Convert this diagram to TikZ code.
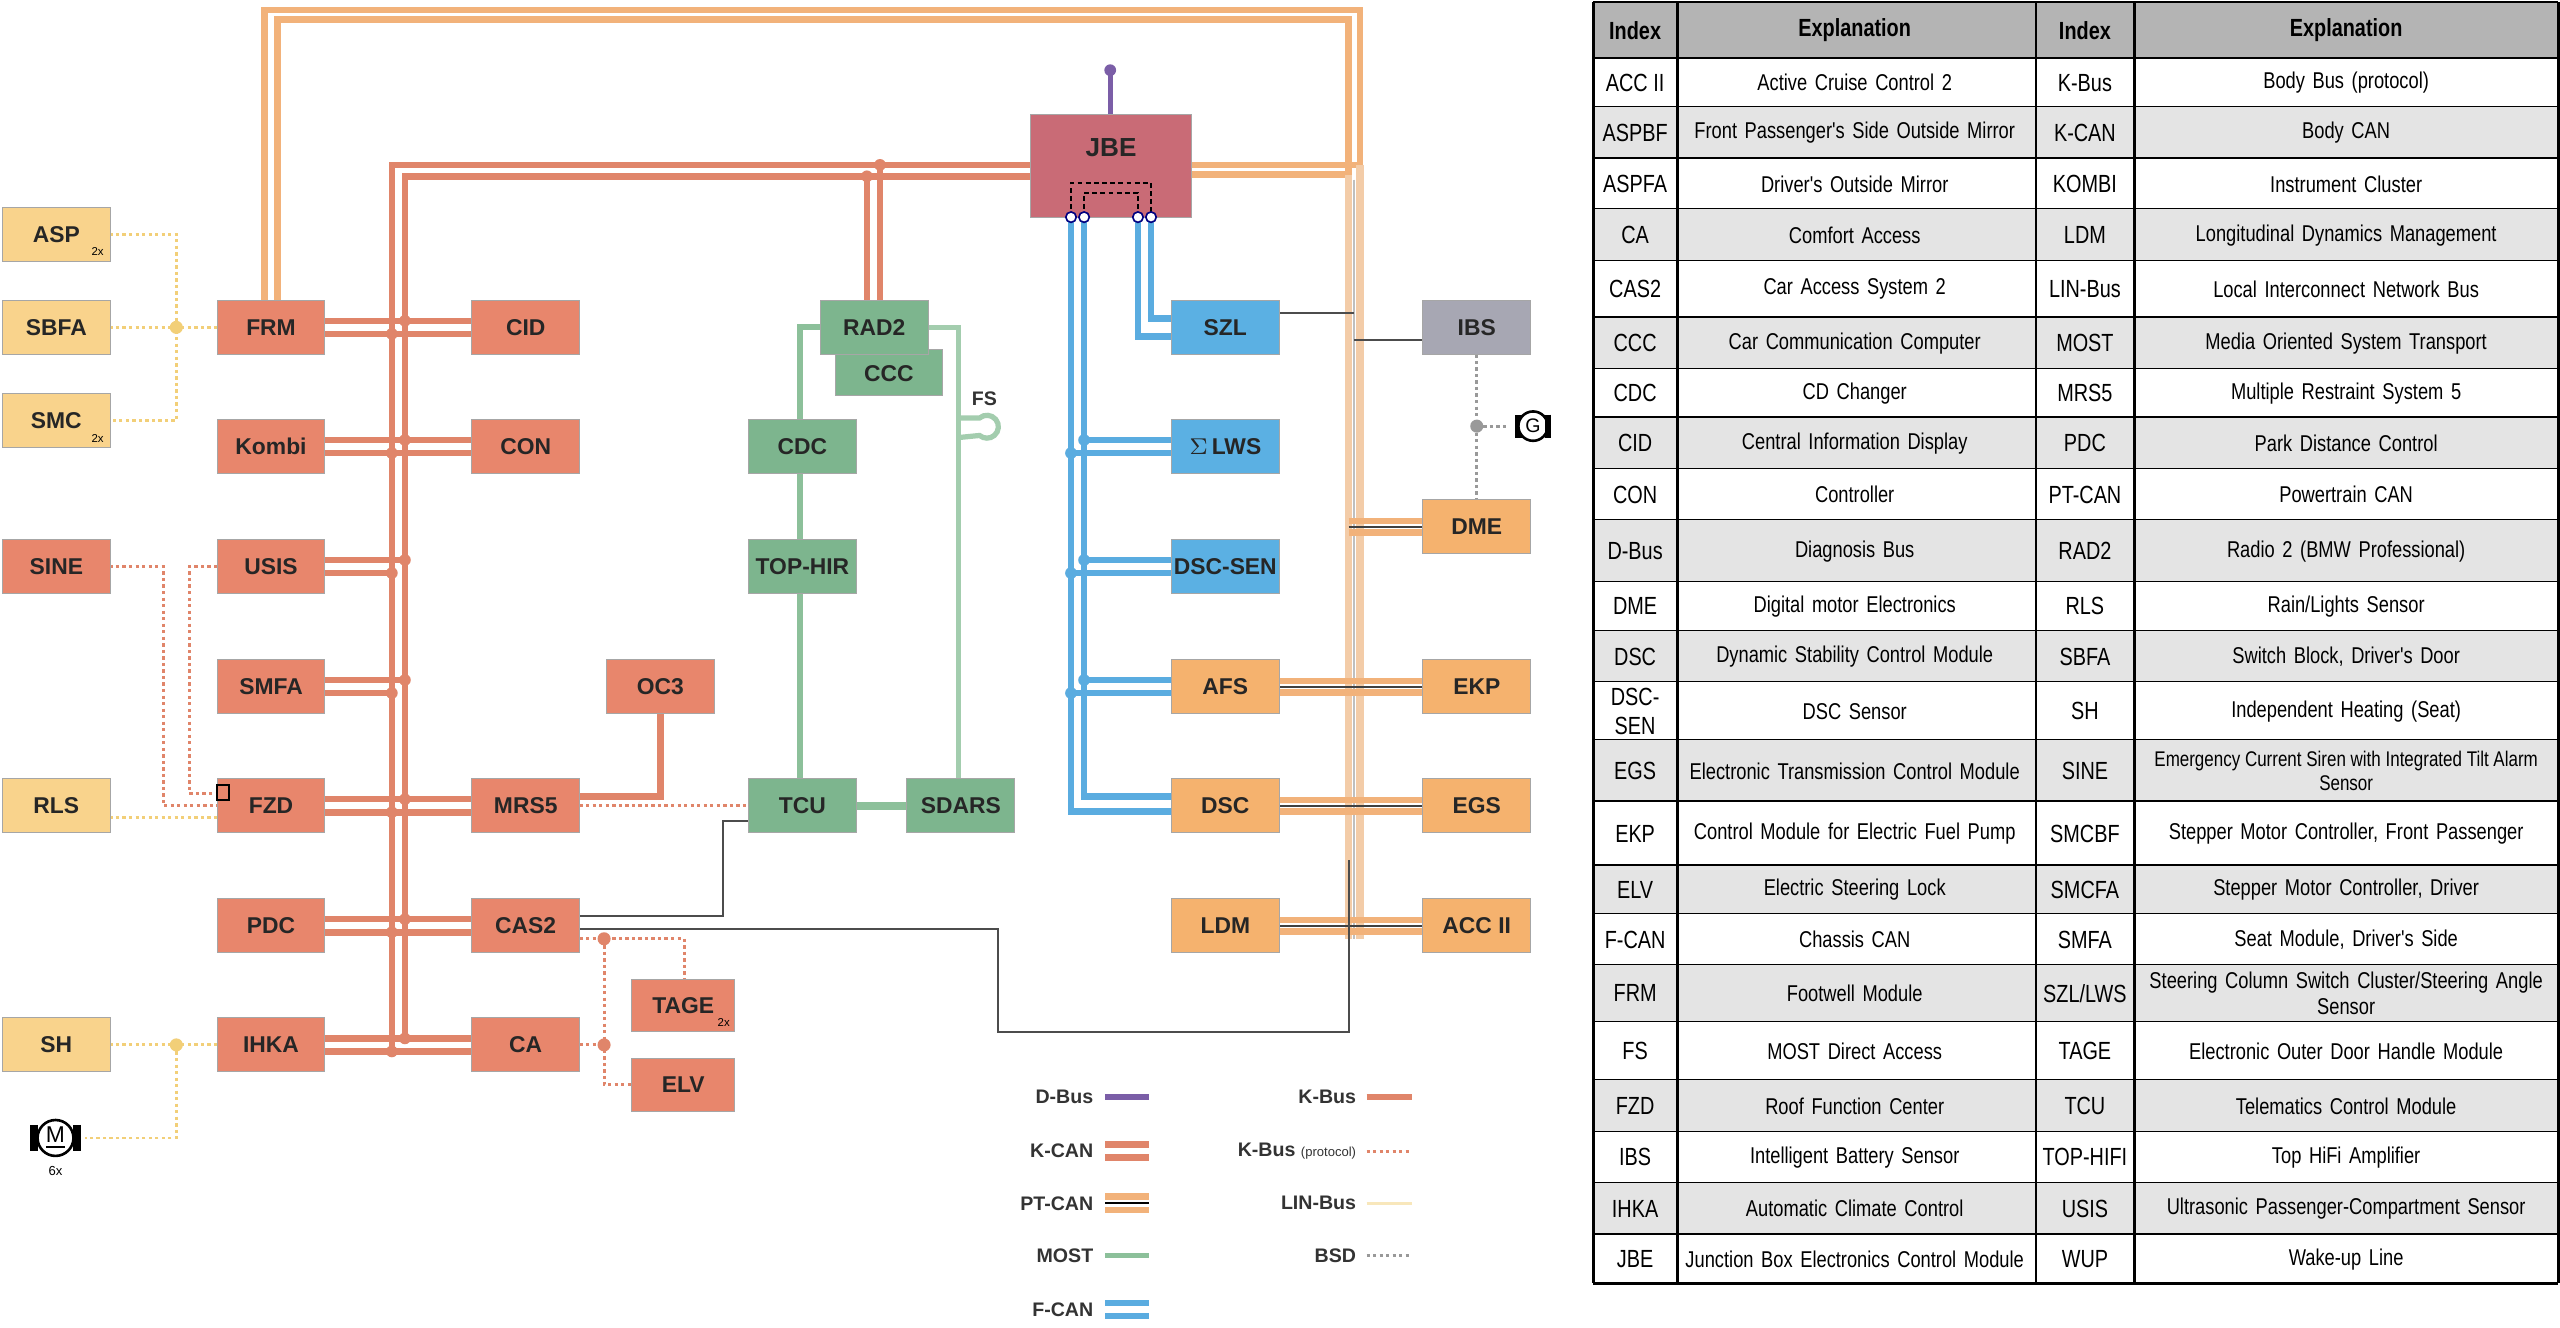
\documentclass[tikz,border=0pt]{standalone}
\usepackage{fontspec}
\setmainfont{Liberation Sans}
\newfontfamily\narrowf{Liberation Sans}[FakeStretch=0.8]
\begin{document}
\hyphenpenalty=10000
\exhyphenpenalty=10000
\definecolor{yel}{HTML}{F9D38C}
\definecolor{sal}{HTML}{E8866C}
\definecolor{grn}{HTML}{7DB58E}
\definecolor{blu}{HTML}{5BB0E3}
\definecolor{org}{HTML}{F5B26E}
\definecolor{jbec}{HTML}{C96B76}
\definecolor{ibsc}{HTML}{A7A7B3}
\definecolor{kcan}{HTML}{E0856A}
\definecolor{ptc}{HTML}{F2B27A}
\definecolor{ptl}{HTML}{F3CCA8}
\definecolor{most}{HTML}{8CC09A}
\definecolor{fcan}{HTML}{5AACE0}
\definecolor{lin}{HTML}{F2CF78}
\definecolor{dbus}{HTML}{7B5EA7}
\definecolor{hdr}{HTML}{B4B4B4}
\definecolor{rowg}{HTML}{E4E4E4}
\begin{tikzpicture}[x=0.5pt,y=-0.5pt,
  box/.style={draw=black!35,line width=0.3pt,minimum width=33pt,minimum height=16.5pt,inner sep=0pt,font=\bfseries\fontsize{7}{8}\selectfont,text=black!85},
  kc/.style={draw=kcan,line width=2pt},
  pt/.style={draw=ptc,line width=2pt},
  ptlight/.style={draw=ptl,line width=2.2pt},
  mo/.style={draw=most,line width=1.8pt},
  fc/.style={draw=fcan,line width=2pt},
  thin/.style={draw=black!70,line width=0.6pt},
  dk/.style={draw=kcan,line width=0.9pt,dash pattern=on 1pt off 1pt},
  dl/.style={draw=lin,line width=0.9pt,dash pattern=on 1pt off 1pt},
  dg/.style={draw=black!40,line width=0.9pt,dash pattern=on 1pt off 1pt},
  two/.style={font=\fontsize{3.5}{4}\selectfont,inner sep=0pt},
  leg/.style={font=\bfseries\fontsize{6}{7}\selectfont,anchor=east,inner sep=1pt,text=black!80},
  tcell/.style={font=\narrowf\fontsize{7}{8}\selectfont,align=center,inner sep=0pt},
  tidx/.style={font=\narrowf\fontsize{7.6}{9}\selectfont,align=center,inner sep=0pt}]
\useasboundingbox (0,0) rectangle (1568,813);
\fill[white] (0,0) rectangle (1568,813);

% ---------- bus lines (behind boxes) ----------
\draw[pt] (162,184) -- (162,6) -- (833,6) -- (833,101);
\draw[pt] (170,184) -- (170,12) -- (826,12) -- (826,107);
\draw[pt] (730,101) -- (833,101);
\draw[pt] (730,107) -- (826,107);
\draw[ptlight] (826,107) -- (826,575);
\draw[ptlight] (833,101) -- (833,575);
\draw[draw=black!25,line width=0.5pt] (829.5,110) -- (829.5,575);
\foreach \c in {420.5,493.5,567}{
  \draw[pt] (783,\c-3.5) -- (872,\c-3.5);
  \draw[pt] (783,\c+3.5) -- (872,\c+3.5);
  \draw[draw=black!75,line width=0.6pt] (783,\c) -- (872,\c);
}
\draw[pt] (826,319) -- (872,319);
\draw[pt] (826,326) -- (872,326);
\draw[draw=black!75,line width=0.6pt] (826,322.5) -- (872,322.5);

% K-CAN
\draw[kc] (240,644) -- (240,101) -- (631,101);
\draw[kc] (248,636) -- (248,108) -- (631,108);
\draw[kc] (531,184) -- (531,108);
\draw[kc] (539,184) -- (539,101);
\fill[kcan] (531,108) circle (1.8pt) (539,101) circle (1.8pt);
\foreach \c in {200.5,273.5,347,420.5,493.5,567,640}{
  \draw[kc] (199,\c-4) -- (248,\c-4);
  \draw[kc] (199,\c+4) -- (240,\c+4);
  \fill[kcan] (248,\c-4) circle (1.8pt) (240,\c+4) circle (1.8pt);
}
\foreach \c in {200.5,273.5,493.5,567,640}{
  \draw[kc] (248,\c-4) -- (289,\c-4);
  \draw[kc] (240,\c+4) -- (289,\c+4);
}
\draw[kc] (404.5,437) -- (404.5,488) -- (355,488);

% MOST
\draw[mo] (503,200.5) -- (490,200.5) -- (490,257);
\draw[mo] (490,290) -- (490,331);
\draw[mo] (490,363) -- (490,477);
\draw[draw=most!80,line width=1.6pt] (568,200.5) -- (587,200.5) -- (587,477);
\draw[draw=most!80,line width=1.6pt] (587,256) -- (600,256) arc[start angle=-130,end angle=130,radius=7] -- (587,268);
\node[font=\bfseries\fontsize{6}{7}\selectfont,text=black!80] (FS) at (603,244) {FS};
\draw[draw=most,line width=2.4pt] (524,493.5) -- (556,493.5);

% F-CAN
\draw[fc] (656,133) -- (656,497) -- (718,497);
\draw[fc] (664,133) -- (664,488) -- (718,488);
\foreach \c in {273.5,347,420.5}{
  \draw[fc] (664,\c-4) -- (718,\c-4);
  \draw[fc] (656,\c+4) -- (718,\c+4);
  \fill[fcan] (664,\c-4) circle (1.8pt) (656,\c+4) circle (1.8pt);
}
\draw[fc] (697,133) -- (697,206) -- (718,206);
\draw[fc] (705,133) -- (705,195) -- (718,195);

% D-Bus
\draw[draw=dbus,line width=1.4pt] (680,70) -- (680,43);
\fill[dbus] (680,43) circle (1.8pt);

% thin black lines
\draw[thin] (783,191.5) -- (829.5,191.5);
\draw[thin] (829.5,208) -- (872,208);
\draw[thin] (355,561) -- (443,561) -- (443,503) -- (459,503);
\draw[thin] (355,569) -- (611,569) -- (611,632) -- (826,632) -- (826,527);

% dotted lines
\draw[dl] (67,143.5) -- (108,143.5) -- (108,257.5) -- (67,257.5);
\draw[dl] (67,200.5) -- (133,200.5);
\fill[lin] (108,200.5) circle (2pt);
\draw[dl] (67,640) -- (133,640);
\draw[dl] (108,640) -- (108,697) -- (52,697);
\fill[lin] (108,640) circle (2pt);
\draw[dl] (67,501) -- (133,501);
\draw[dk] (67,347) -- (100,347) -- (100,493.5) -- (133,493.5);
\draw[dk] (133,347) -- (116,347) -- (116,486) -- (133,486);
\draw[dk] (355,493.5) -- (459,493.5);
\draw[dk] (355,575) -- (419,575) -- (419,600);
\draw[dk] (370,575) -- (370,664.5) -- (387,664.5);
\draw[dk] (355,640) -- (370,640);
\fill[kcan] (370,575) circle (2pt) (370,640) circle (2pt);
\draw[dg] (904.5,217) -- (904.5,306);
\draw[dg] (904.5,261) -- (924,261);
\fill[black!40] (904.5,261) circle (2pt);

% ---------- boxes ----------
\node[box,fill=yel] (ASP) at (34.5,143.5) {ASP};
\node[box,fill=yel] (SBFA) at (34.5,200.5) {SBFA};
\node[box,fill=yel] (SMC) at (34.5,257.5) {SMC};
\node[box,fill=sal] (SINE) at (34.5,347) {SINE};
\node[box,fill=yel] (RLS) at (34.5,493.5) {RLS};
\node[box,fill=yel] (SH) at (34.5,640) {SH};
\node[two] at ([xshift=-4pt,yshift=3pt]ASP.south east) {2x};
\node[two] at ([xshift=-4pt,yshift=3pt]SMC.south east) {2x};

\node[box,fill=sal] (FRM) at (166,200.5) {FRM};
\node[box,fill=sal] (Kombi) at (166,273.5) {Kombi};
\node[box,fill=sal] (USIS) at (166,347) {USIS};
\node[box,fill=sal] (SMFA) at (166,420.5) {SMFA};
\node[box,fill=sal] (FZD) at (166,493.5) {FZD};
\node[box,fill=sal] (PDC) at (166,567) {PDC};
\node[box,fill=sal] (IHKA) at (166,640) {IHKA};
\draw[draw=black,line width=0.6pt] (133,481) rectangle (140,490);

\node[box,fill=sal] (CID) at (322,200.5) {CID};
\node[box,fill=sal] (CON) at (322,273.5) {CON};
\node[box,fill=sal] (MRS5) at (322,493.5) {MRS5};
\node[box,fill=sal] (CAS2) at (322,567) {CAS2};
\node[box,fill=sal] (CA) at (322,640) {CA};
\node[box,fill=sal] (OC3) at (404.5,420.5) {OC3};
\node[box,fill=sal,minimum width=31.5pt,minimum height=16pt] (TAGE) at (418.5,616) {TAGE};
\node[box,fill=sal,minimum width=31.5pt,minimum height=16pt] (ELV) at (418.5,664.5) {ELV};
\node[two] at ([xshift=-3.5pt,yshift=3pt]TAGE.south east) {2x};

\node[box,fill=grn,minimum width=32.5pt,minimum height=14pt,text depth=-1pt] (CCC) at (544.5,228) {\raisebox{-1pt}{CCC}};
\node[box,fill=grn] (RAD2) at (535.5,200.5) {RAD2};
\node[box,fill=grn] (CDC) at (491.5,273.5) {CDC};
\node[box,fill=grn] (TOPHIR) at (491.5,347) {TOP-HIR};
\node[box,fill=grn] (TCU) at (491.5,493.5) {TCU};
\node[box,fill=grn] (SDARS) at (588.5,493.5) {SDARS};

\node[box,fill=jbec,minimum width=49.5pt,minimum height=31.5pt,text depth=11pt,font=\bfseries\fontsize{8}{9}\selectfont] (JBE) at (680.5,101.5) {JBE};
\draw[draw=black,line width=0.6pt,dash pattern=on 1.5pt off 1pt] (656,133) -- (656,112) -- (705,112) -- (705,133);
\draw[draw=black,line width=0.6pt,dash pattern=on 1.5pt off 1pt] (664,133) -- (664,118) -- (697,118) -- (697,133);
\foreach \xx in {656,664,697,705}{\draw[draw=blue!50!black,fill=white,line width=0.5pt] (\xx,133) circle (1.6pt);}

\node[box,fill=blu] (SZL) at (750.5,200.5) {SZL};
\node[box,fill=blu] (LWS) at (750.5,273.5) {$\Sigma$\,LWS};
\node[box,fill=blu] (DSCSEN) at (750.5,347) {DSC-SEN};
\node[box,fill=org] (AFS) at (750.5,420.5) {AFS};
\node[box,fill=org] (DSC) at (750.5,493.5) {DSC};
\node[box,fill=org] (LDM) at (750.5,567) {LDM};
\node[box,fill=ibsc] (IBS) at (904.5,200.5) {IBS};
\node[box,fill=org] (DME) at (904.5,322.5) {DME};
\node[box,fill=org] (EKP) at (904.5,420.5) {EKP};
\node[box,fill=org] (EGS) at (904.5,493.5) {EGS};
\node[box,fill=org] (ACCII) at (904.5,567) {ACC II};

\draw[line width=2pt] (930,254) -- (930,268);
\node[draw,circle,line width=0.8pt,minimum size=9pt,inner sep=0pt,font=\fontsize{6}{6}\selectfont,fill=white] (G) at (939,261) {G};
\draw[line width=2pt] (948,254) -- (948,268);
\draw[line width=2.5pt] (21,689) -- (21,705);
\draw[line width=2.5pt] (47,689) -- (47,705);
\node[draw,circle,line width=0.8pt,minimum size=11pt,inner sep=0pt,font=\fontsize{7}{7}\selectfont,fill=white] (MOT) at (34,697) {\underline{M}};
\node[two,font=\fontsize{4}{4}\selectfont] at (34,717) {6x};

% ---------- legend ----------
\node[leg] (lD) at (672,672) {D-Bus};
\draw[draw=dbus,line width=2pt] (677,672) -- (704,672);
\node[leg] (lK) at (672,705) {K-CAN};
\draw[kc] (677,701) -- (704,701); \draw[kc] (677,709) -- (704,709);
\node[leg] (lP) at (672,737) {PT-CAN};
\draw[pt] (677,733) -- (704,733); \draw[pt] (677,741) -- (704,741);
\draw[draw=black,line width=0.7pt] (677,737) -- (704,737);
\node[leg] (lM) at (672,769) {MOST};
\draw[mo] (677,769) -- (704,769);
\node[leg] (lF) at (672,802) {F-CAN};
\draw[fc] (677,798) -- (704,798); \draw[fc] (677,806) -- (704,806);
\node[leg] (rK) at (833,672) {K-Bus};
\draw[kc] (837,672) -- (865,672);
\node[leg] (rKp) at (833,705) {K-Bus {\mdseries\fontsize{4}{5}\selectfont(protocol)}};
\draw[dk] (837,705) -- (865,705);
\node[leg] (rL) at (833,737) {LIN-Bus};
\draw[draw=lin!50,line width=1pt] (837,737) -- (865,737);
\node[leg] (rB) at (833,769) {BSD};
\draw[dg] (837,769) -- (865,769);

% ---------- table ----------
\fill[hdr] (976,1.3) rectangle (1567,35.6);
\node[tidx,font=\bfseries\narrowf\fontsize{7.6}{9}\selectfont] at (1001.5,18.5) {Index};
\node[tidx,font=\bfseries\narrowf\fontsize{7.6}{9}\selectfont] at (1136,18.5) {Explanation};
\node[tidx,font=\bfseries\narrowf\fontsize{7.6}{9}\selectfont] at (1277,18.5) {Index};
\node[tidx,font=\bfseries\narrowf\fontsize{7.6}{9}\selectfont] at (1437,18.5) {Explanation};
\foreach \ya/\yb/\a/\b/\c/\d/\g in {
35.6/65.7/{ACC II}/{Active Cruise Control 2}/{K-Bus}/{Body Bus (protocol)}/white,
65.7/97.1/{ASPBF}/{Front Passenger's Side Outside Mirror}/{K-CAN}/{Body CAN}/rowg,
97.1/128.3/{ASPFA}/{Driver's Outside Mirror}/{KOMBI}/{Instrument Cluster}/white,
128.3/159.8/{CA}/{Comfort Access}/{LDM}/{Longitudinal Dynamics Management}/rowg,
159.8/194.6/{CAS2}/{Car Access System 2}/{LIN-Bus}/{Local Interconnect Network Bus}/white,
194.6/226/{CCC}/{Car Communication Computer}/{MOST}/{Media Oriented System Transport}/rowg,
226/255.9/{CDC}/{CD Changer}/{MRS5}/{Multiple Restraint System 5}/white,
255.9/287.3/{CID}/{Central Information Display}/{PDC}/{Park Distance Control}/rowg,
287.3/318.8/{CON}/{Controller}/{PT-CAN}/{Powertrain CAN}/white,
318.8/356.4/{D-Bus}/{Diagnosis Bus}/{RAD2}/{Radio 2 (BMW Professional)}/rowg,
356.4/386.5/{DME}/{Digital motor Electronics}/{RLS}/{Rain/Lights Sensor}/white,
386.5/417.8/{DSC}/{Dynamic Stability Control Module}/{SBFA}/{Switch Block, Driver's Door}/rowg,
417.8/453.5/{DSC-\\SEN}/{DSC Sensor}/{SH}/{Independent Heating (Seat)}/white,
453.5/491.1/{EGS}/{Electronic Transmission Control Module}/{SINE}/{}/rowg,
491.1/530.2/{EKP}/{Control Module for Electric Fuel Pump}/{SMCBF}/{Stepper Motor Controller, Front Passenger}/white,
530.2/560.1/{ELV}/{Electric Steering Lock}/{SMCFA}/{Stepper Motor Controller, Driver}/rowg,
560.1/591/{F-CAN}/{Chassis CAN}/{SMFA}/{Seat Module, Driver's Side}/white,
591/625.9/{FRM}/{Footwell Module}/{SZL/LWS}/{Steering Column Switch Cluster/Steering Angle\\Sensor}/rowg,
625.9/661.6/{FS}/{MOST Direct Access}/{TAGE}/{Electronic Outer Door Handle Module}/white,
661.6/693.3/{FZD}/{Roof Function Center}/{TCU}/{Telematics Control Module}/rowg,
693.3/724.5/{IBS}/{Intelligent Battery Sensor}/{TOP-HIFI}/{Top HiFi Amplifier}/white,
724.5/756.3/{IHKA}/{Automatic Climate Control}/{USIS}/{Ultrasonic Passenger-Compartment Sensor}/rowg,
756.3/786.1/{JBE}/{Junction Box Electronics Control Module}/{WUP}/{Wake-up Line}/white}{
  \fill[\g] (976,\ya) rectangle (1567,\yb);
  \node[tidx] at (1001.5,{(\ya+\yb)/2}) {\a};
  \node[tcell,text width=108pt] at (1136,{(\ya+\yb)/2}) {\b};
  \node[tcell,text width=130pt] at (1437,{(\ya+\yb)/2}) {\d};
  \node[tidx] at (1277,{(\ya+\yb)/2}) {\c};
  \draw[line width=0.8pt] (976,\yb) -- (1567,\yb);
}
\node[tcell,font=\narrowf\fontsize{6.5}{7.5}\selectfont] at (1437,472.3) {Emergency Current Siren with Integrated Tilt Alarm\\Sensor};
\draw[line width=0.8pt] (976,1.3) -- (1567,1.3) (976,35.6) -- (1567,35.6);
\foreach \xx in {976,1027.5,1247,1307.5,1567}{\draw[line width=0.8pt] (\xx,1.3) -- (\xx,786.1);}
\end{tikzpicture}
\end{document}
